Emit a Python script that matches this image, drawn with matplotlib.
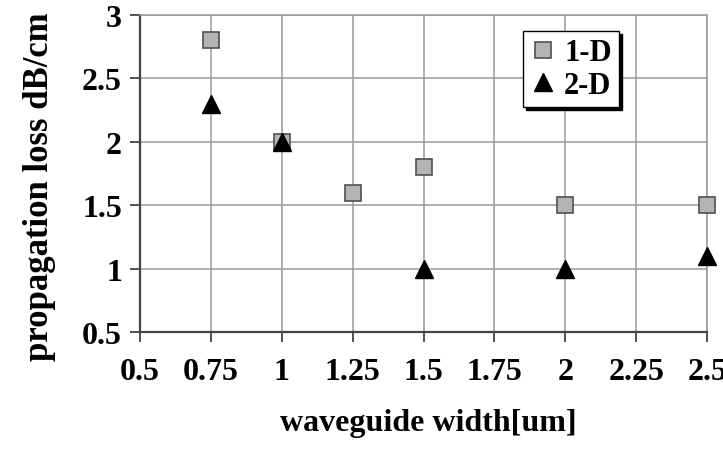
import numpy as np
import matplotlib
matplotlib.use("Agg")
import matplotlib.pyplot as plt

# data
x_1d = [0.75, 1.0, 1.25, 1.5, 2.0, 2.5]
y_1d = [2.8, 2.0, 1.6, 1.8, 1.5, 1.5]
x_2d = [0.75, 1.0, 1.5, 2.0, 2.5]
y_2d = [2.3, 2.0, 1.0, 1.0, 1.1]
xticks = [0.5, 0.75, 1, 1.25, 1.5, 1.75, 2, 2.25, 2.5]
xtick_labels = ["0.5", "0.75", "1", "1.25", "1.5", "1.75", "2", "2.25", "2.5"]
yticks = [0.5, 1, 1.5, 2, 2.5, 3]
ytick_labels = ["0.5", "1", "1.5", "2", "2.5", "3"]

plt.rcParams['font.family'] = ['Liberation Serif', 'DejaVu Serif']
plt.rcParams['font.weight'] = 'bold'

fig = plt.figure(figsize=(7.23, 4.56), dpi=100)
ax = fig.add_axes([0.1936, 0.2697, 0.978 - 0.1936, 0.965 - 0.2697])

ax.plot(x_1d, y_1d, linestyle='none', marker='s', markersize=11.5,
        markerfacecolor='#b4b4b4', markeredgecolor='#505050', markeredgewidth=1.2,
        label='1-D', zorder=3, clip_on=False)
ax.plot(x_2d, y_2d, linestyle='none', marker='^', markersize=12.5,
        markerfacecolor='black', markeredgecolor='black',
        label='2-D', zorder=4, clip_on=False)

ax.set_xlim(0.5, 2.5)
ax.set_ylim(0.5, 3)
ax.set_xticks(xticks)
ax.set_xticklabels(xtick_labels)
ax.set_yticks(yticks)
ax.set_yticklabels(ytick_labels)
ax.tick_params(axis='both', labelsize=23, direction='out', length=7,
               width=1.3, color='#444444')
ax.tick_params(axis='x', pad=11)
ax.tick_params(axis='y', pad=6)
ax.grid(True, color='#9a9a9a', linewidth=1.1)
ax.set_axisbelow(True)

for side in ['top', 'right']:
    ax.spines[side].set_color('#9a9a9a')
    ax.spines[side].set_linewidth(1.1)
for side in ['left', 'bottom']:
    ax.spines[side].set_color('#444444')
    ax.spines[side].set_linewidth(1.6)

ax.set_xlabel('waveguide width[um]', fontsize=23, fontweight='bold')
ax.xaxis.set_label_coords(0.508, -0.24)
ax.set_ylabel('propagation loss dB/cm', fontsize=25, fontweight='bold')
ax.yaxis.set_label_coords(-0.148, 0.46)

leg = ax.legend(loc='upper left', bbox_to_anchor=(0.675, 0.95), fontsize=22,
                frameon=True, fancybox=False, shadow={'color': 'black', 'alpha': 1},
                handlelength=0.8, handletextpad=0.3, borderpad=0.25,
                labelspacing=0.1, borderaxespad=0)
leg.get_frame().set_edgecolor('black')
leg.get_frame().set_linewidth(1.0)
leg.get_frame().set_alpha(1)

fig.savefig('out.png', dpi=100)
